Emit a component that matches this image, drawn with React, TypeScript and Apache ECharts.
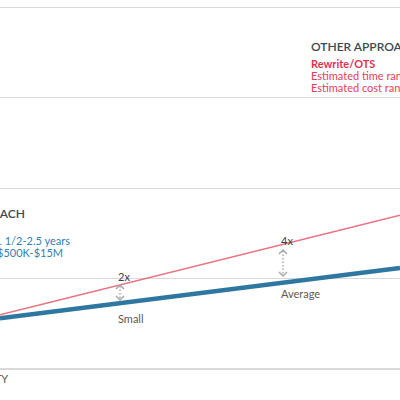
import React, { useEffect, useRef } from "react";
import * as echarts from "echarts";

// x runs 0..100 across the visible width; y in grid units (one unit per gridline)
const lineX = [0, 100];
const rewriteValues = [0.6, 1.7];
const approachValues = [0.56, 1.116];

const sizeLabels = ["Small", "Average"];
const multipliers = ["2x", "4x"];
const sizeX = [30, 70.75];
const gapLow = [0.762, 1.028];
const gapHigh = [0.928, 1.315];

const FONT = "Lato, 'Open Sans', sans-serif";

export default function App() {
  const ref = useRef<HTMLDivElement>(null);
  useEffect(() => {
    if (!ref.current) return;
    const chart = echarts.init(ref.current, undefined, { renderer: "svg" });
    const arrowData = sizeX.map((x, i) => [x, gapLow[i], gapHigh[i]]);
    chart.setOption({
      animation: false,
      backgroundColor: "#ffffff",
      grid: { left: 0, right: 0, top: 7, bottom: 31 },
      xAxis: {
        type: "value",
        min: 0,
        max: 100,
        axisLabel: { show: false },
        axisTick: { show: false },
        splitLine: { show: false },
        axisLine: { show: true, lineStyle: { color: "#d9d9d9", width: 2 } },
      },
      yAxis: {
        type: "value",
        min: 0,
        max: 4,
        interval: 1,
        axisLabel: { show: false },
        axisTick: { show: false },
        axisLine: { show: false },
        splitLine: { show: true, lineStyle: { color: "#d9d9d9", width: 1 } },
      },
      series: [
        {
          type: "line",
          name: "Rewrite/OTS",
          data: lineX.map((x, i) => [x, rewriteValues[i]]),
          symbol: "none",
          lineStyle: { color: "#e8747f", width: 1.5 },
          z: 2,
        },
        {
          type: "line",
          name: "Approach",
          data: lineX.map((x, i) => [x, approachValues[i]]),
          symbol: "none",
          lineStyle: { color: "#2e77a1", width: 4.5 },
          z: 3,
        },
        {
          type: "custom",
          data: arrowData,
          z: 4,
          renderItem: (params: any, api: any) => {
            const i = params.dataIndex;
            const x = api.value(0);
            const pb = api.coord([x, api.value(1)]);
            const pt = api.coord([x, api.value(2)]);
            const cx = pb[0];
            const stroke = "#a9a9a9";
            return {
              type: "group",
              children: [
                {
                  type: "line",
                  shape: { x1: cx, y1: pt[1] + 1, x2: cx, y2: pb[1] - 1 },
                  style: { stroke, lineWidth: 1.5, lineDash: [1.5, 2] },
                },
                {
                  type: "polyline",
                  shape: { points: [[cx - 4, pt[1] + 4], [cx, pt[1]], [cx + 4, pt[1] + 4]] },
                  style: { stroke, lineWidth: 1.5, fill: "none" },
                },
                {
                  type: "polyline",
                  shape: { points: [[cx - 4, pb[1] - 4], [cx, pb[1]], [cx + 4, pb[1] - 4]] },
                  style: { stroke, lineWidth: 1.5, fill: "none" },
                },
                {
                  type: "text",
                  x: cx - 2,
                  y: pt[1] - 9,
                  style: {
                    text: multipliers[i],
                    fill: "#404040",
                    font: `11px ${FONT}`,
                    align: "left",
                    verticalAlign: "middle",
                  },
                },
                {
                  type: "text",
                  x: cx - 2,
                  y: pb[1] + 18,
                  style: {
                    text: sizeLabels[i],
                    fill: "#595959",
                    font: `11px ${FONT}`,
                    align: "left",
                    verticalAlign: "middle",
                  },
                },
              ],
            };
          },
        },
      ],
      graphic: [
        {
          type: "text",
          x: 311,
          y: 46,
          style: { text: "OTHER APPROACH", fill: "#3c4852", font: `600 12px ${FONT}`, verticalAlign: "middle" },
        },
        {
          type: "text",
          x: 311,
          y: 63,
          style: { text: "Rewrite/OTS", fill: "#e0324f", font: `bold 11px ${FONT}`, verticalAlign: "middle" },
        },
        {
          type: "text",
          x: 311,
          y: 75,
          style: { text: "Estimated time range", fill: "#e3405a", font: `11px ${FONT}`, verticalAlign: "middle" },
        },
        {
          type: "text",
          x: 311,
          y: 87,
          style: { text: "Estimated cost range", fill: "#e3405a", font: `11px ${FONT}`, verticalAlign: "middle" },
        },
        {
          type: "text",
          x: 25,
          y: 213,
          style: {
            text: "APPROACH",
            fill: "#3c4852",
            font: `600 12px ${FONT}`,
            align: "right",
            verticalAlign: "middle",
          },
        },
        {
          type: "text",
          x: 70,
          y: 240,
          style: {
            text: "Estimated time range: 1 1/2-2.5 years",
            fill: "#2e7fb3",
            font: `11px ${FONT}`,
            align: "right",
            verticalAlign: "middle",
          },
        },
        {
          type: "text",
          x: 63,
          y: 252,
          style: {
            text: "Estimated cost range: $500K-$15M",
            fill: "#2e7fb3",
            font: `11px ${FONT}`,
            align: "right",
            verticalAlign: "middle",
          },
        },
        {
          type: "text",
          x: 8,
          y: 378,
          style: {
            text: "COMPLEXITY",
            fill: "#595959",
            font: `11px ${FONT}`,
            align: "right",
            verticalAlign: "middle",
          },
        },
      ],
    });
    return () => chart.dispose();
  }, []);
  return (
    <div
      ref={ref}
      style={{ position: "absolute", left: 0, top: 0, width: 400, height: 400 }}
    />
  );
}
